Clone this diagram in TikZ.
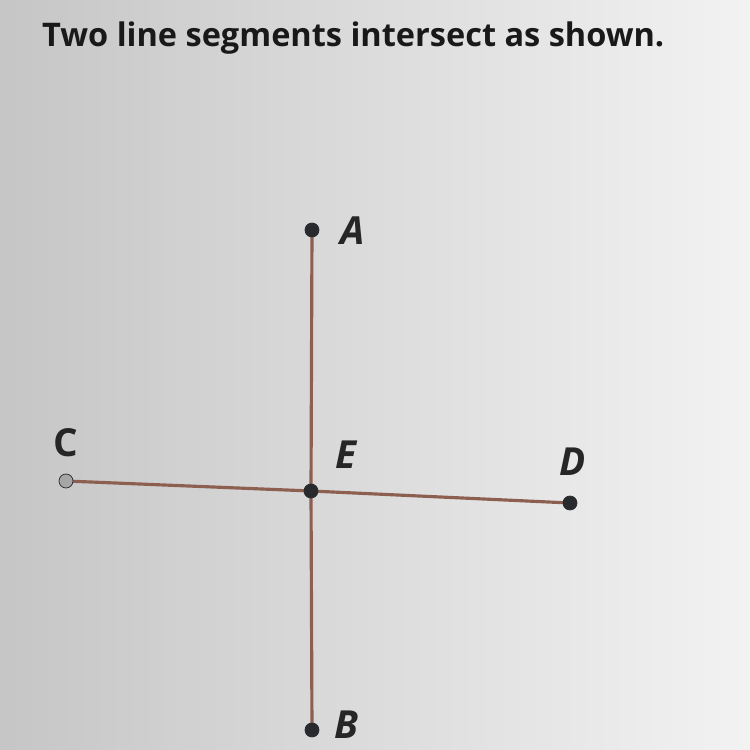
\documentclass[tikz,border=0pt]{standalone}
\usepackage{fontspec}
\setmainfont{Open Sans}
\usetikzlibrary{calc}
\definecolor{segcolor}{RGB}{140,95,80}
\definecolor{dotcolor}{RGB}{40,42,45}
\tikzset{
    punto/.style={circle, fill=dotcolor, draw=dotcolor, inner sep=0pt, minimum size=0.28cm},
    etiqueta/.style={font=\fontsize{22}{24}\selectfont\bfseries\itshape, text=black!85},
    segmento/.style={draw=segcolor, line width=1.8pt}
}
\begin{document}
\begin{tikzpicture}

    % Fondo
    \useasboundingbox (0,0) rectangle (15,15);
    \shade[left color=gray!45, right color=gray!10] (0,0) rectangle (15,15);

    % Enunciado
    \node[anchor=west, font=\fontsize{18.5}{20}\selectfont\bfseries, text=black!90] (titulo) at (0.72,14.24) {Two line segments intersect as shown.};

    % Puntos
    \coordinate (A) at (6.24,10.40);
    \coordinate (E) at (6.22,5.18);
    \coordinate (B) at (6.24,0.40);
    \coordinate (C) at (1.32,5.38);
    \coordinate (D) at (11.40,4.94);

    % Segmentos
    \draw[segmento] (A) -- (E) -- (B);
    \draw[segmento] (C) -- (E) -- (D);

    \node[punto] (pA) at (A) {};
    \node[punto] (pE) at (E) {};
    \node[punto] (pB) at (B) {};
    \node[punto, fill=gray!70] (pC) at (C) {};
    \node[punto] (pD) at (D) {};

    % Etiquetas
    \node[etiqueta] (lA) at (7.05,10.38) {A};
    \node[etiqueta] (lE) at (6.92,5.90) {E};
    \node[etiqueta] (lD) at (11.46,5.76) {D};
    \node[etiqueta, font=\fontsize{22}{24}\selectfont\bfseries] (lC) at (1.32,6.14) {C};
    \node[etiqueta, inner sep=1pt] (lB) at (6.92,0.50) {B};

\end{tikzpicture}
\end{document}
